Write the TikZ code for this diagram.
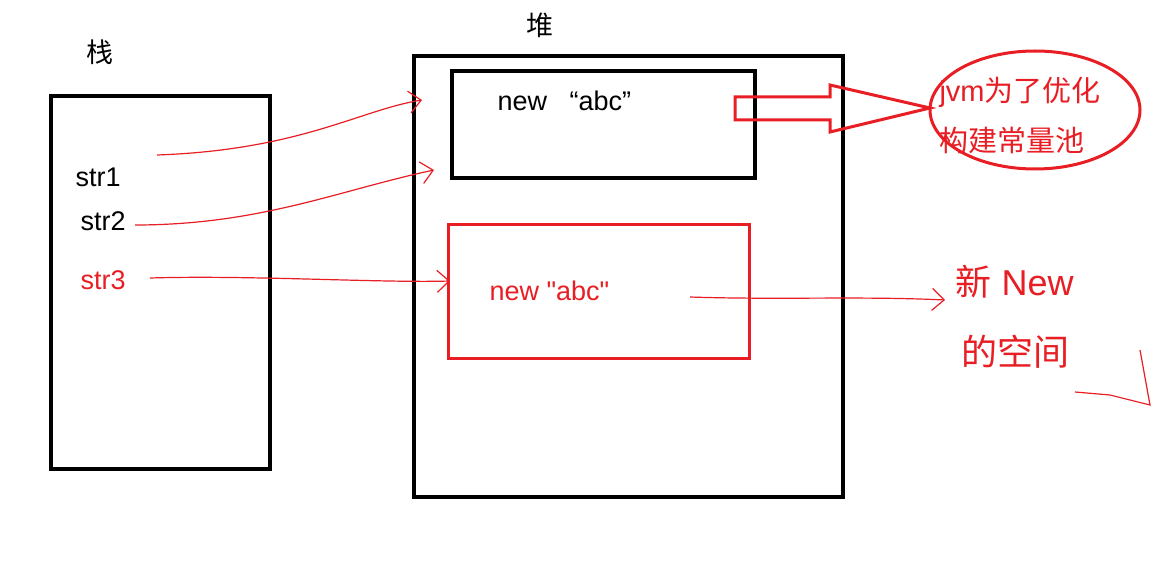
\documentclass[tikz,border=0pt]{standalone}
\usepackage{fontspec}
\setmainfont{Liberation Sans}[Mapping=]
\newfontfamily\cjk{Noto Sans CJK SC}
\usetikzlibrary{arrows.meta,shapes.geometric}
\definecolor{rd}{RGB}{232,30,36}
\begin{document}
\begin{tikzpicture}[x=1pt,y=-1pt,
  box/.style={draw,line width=3.5pt},
  rbox/.style={draw=rd,line width=3pt},
  lbl/.style={font=\fontsize{27}{30}\selectfont},
  rarr/.style={draw=rd,line width=1.2pt,-{Straight Barb[length=12pt,width=22pt]}}]
\useasboundingbox[fill=white] (0,0) rectangle (1158,561);
\node[lbl] (stk) at (100,52) {\cjk 栈};
\node[lbl] (hp) at (540,25) {\cjk 堆};
\node[box,minimum width=219pt,minimum height=373pt] (stack) at (160.5,282.5) {};
\node[box,minimum width=429pt,minimum height=441pt] (heap) at (628.5,276.5) {};
\node[box,minimum width=303pt,minimum height=107pt] (pool) at (603.5,124.5) {};
\node[rbox,minimum width=301pt,minimum height=133pt] (obj) at (598.5,291.5) {};
\node[lbl,anchor=west] (t1) at (494,101) {new \ \ “abc”};
\node[lbl,anchor=west,text=rd] (t2) at (486,291) {new "abc"};
\node[lbl,anchor=west] (s1) at (72,177) {str1};
\node[lbl,anchor=west] (s2) at (77,221) {str2};
\node[lbl,anchor=west,text=rd] (s3) at (77,280) {str3};
\coordinate (a1) at (157,155);
\coordinate (b1) at (422,100);
\coordinate (a2) at (135,225);
\coordinate (b2) at (434,170);
\coordinate (a3) at (150,278);
\coordinate (b3) at (450,281);
\draw[rarr] (a1) .. controls (300,150) and (360,110) .. (b1);
\draw[rarr] (a2) .. controls (260,225) and (340,190) .. (b2);
\draw[rarr] (a3) .. controls (250,275) and (380,283) .. (b3);
\draw[rd,line width=3pt,line join=miter] (735,97) -- (830,97) -- (830,85) -- (930,108) -- (830,132) -- (830,120) -- (735,120) -- cycle;
\node[draw=rd,line width=3pt,ellipse,minimum width=210pt,minimum height=118pt] (ell) at (1035,110) {};
\node[text=rd,anchor=west,font=\fontsize{29}{32}\selectfont] (e1) at (936,92) {jvm{\cjk 为了优化}};
\node[text=rd,anchor=west,font=\fontsize{29}{32}\selectfont] (e2) at (936,140) {\cjk 构建常量池};
\coordinate (c1) at (690,297);
\coordinate (c2) at (945,300);
\draw[rarr] (c1) .. controls (780,300) and (860,296) .. (c2);
\node[text=rd,anchor=west,font=\fontsize{36}{38}\selectfont] (h1) at (952,282) {{\cjk 新} New};
\node[text=rd,anchor=west,font=\fontsize{36}{38}\selectfont] (h2) at (958,352) {\cjk 的空间};
\draw[rd,line width=1.2pt] (1075,392) -- (1110,395) -- (1150,405) -- (1140,350);
\end{tikzpicture}
\end{document}
